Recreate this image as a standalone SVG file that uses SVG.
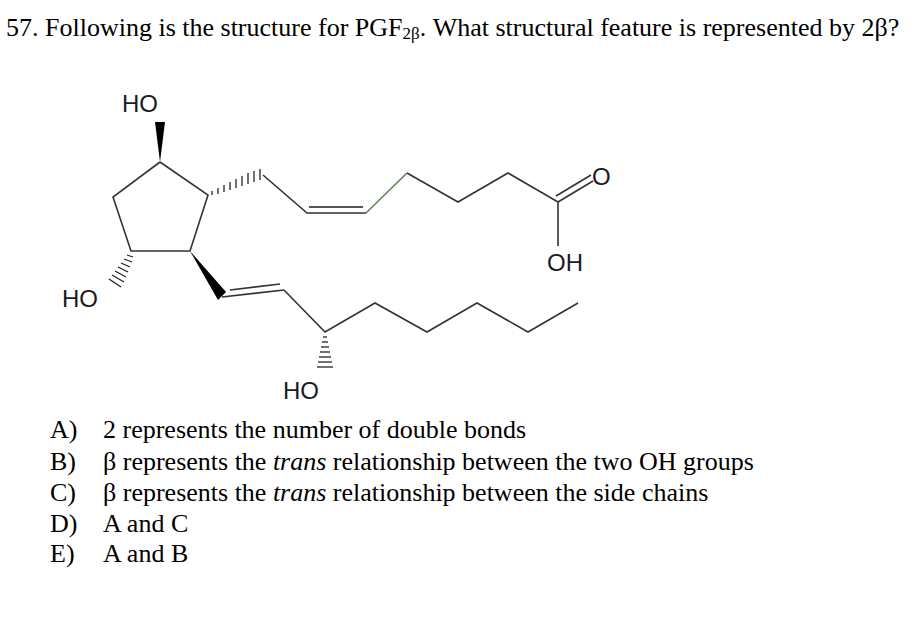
<svg xmlns="http://www.w3.org/2000/svg" width="920" height="640" viewBox="0 0 920 640">
<style>
.t{font-family:"Liberation Serif",serif;font-size:26px;fill:#000}
.a{font-family:"Liberation Sans",sans-serif;font-size:24px;fill:#1a1a22}
.b{stroke:#333;stroke-width:1.6;fill:none}
.h{stroke:#222;stroke-width:1.3;fill:none}
</style>
<rect width="920" height="640" fill="#fff"/>
<text class="t" x="6" y="36">57. Following is the structure for PGF<tspan font-size="17" dy="3">2β</tspan><tspan dy="-3">. What structural feature is represented by 2β?</tspan></text>
<g id="molecule">
<polyline class="b" points="160,162 208,195 190,251 131,251 113,197 160,162"/>
<polygon points="160,162 155,122 165,122" fill="#000"/>
<text class="a" x="122" y="112">HO</text>
<g class="h">
<line x1="212" y1="195" x2="212" y2="191"/><line x1="218" y1="194" x2="218" y2="188"/><line x1="224" y1="192" x2="224" y2="185"/><line x1="230" y1="190" x2="230" y2="182"/><line x1="236" y1="188" x2="236" y2="179"/><line x1="242" y1="186" x2="242" y2="176"/><line x1="248" y1="184" x2="248" y2="173"/><line x1="254" y1="182" x2="254" y2="171"/><line x1="260" y1="180" x2="260" y2="169"/>
</g>
<polyline class="b" points="263,175 307,213 366,213"/>
<line x1="309" y1="207" x2="363" y2="207" stroke="#555" stroke-width="2"/>
<line x1="366" y1="213" x2="407" y2="173" stroke="#5a8a4a" stroke-width="1.6"/>
<polyline class="b" points="407,173 458,202 508,173 558,202 558,246"/>
<line x1="558" y1="202" x2="593" y2="181" stroke="#333" stroke-width="1.6"/>
<line x1="556" y1="196" x2="591" y2="175" stroke="#333" stroke-width="1.6"/>
<text class="a" x="592" y="185">O</text>
<text class="a" x="547" y="271">OH</text>
<g class="h">
<line x1="127" y1="255" x2="133" y2="257"/><line x1="124" y1="259" x2="132" y2="262"/><line x1="121" y1="263" x2="130" y2="267"/><line x1="118" y1="267" x2="128" y2="272"/><line x1="115" y1="271" x2="126" y2="277"/><line x1="112" y1="275" x2="124" y2="282"/><line x1="109" y1="279" x2="121" y2="287"/>
</g>
<text class="a" x="62" y="307">HO</text>
<polygon points="190,251 218,300 226,292" fill="#000"/>
<line x1="222" y1="297" x2="284" y2="290" stroke="#333" stroke-width="1.6"/>
<line x1="230" y1="290" x2="280" y2="284" stroke="#333" stroke-width="1.6"/>
<polyline class="b" points="284,290 325,332 375,303 427,332 477,303 528,332 578,303"/>
<g class="h">
<line x1="323" y1="337" x2="327" y2="337"/><line x1="322" y1="342" x2="328" y2="342"/><line x1="321" y1="347" x2="329" y2="347"/><line x1="320" y1="352" x2="330" y2="352"/><line x1="319" y1="357" x2="331" y2="357"/><line x1="318" y1="362" x2="332" y2="362"/><line x1="317" y1="367" x2="333" y2="367"/>
</g>
<text class="a" x="283" y="399">HO</text>
</g>
<text class="t" x="50" y="438">A)</text><text class="t" x="103" y="438">2 represents the number of double bonds</text>
<text class="t" x="50" y="470">B)</text><text class="t" x="103" y="470">β represents the <tspan font-style="italic">trans</tspan> relationship between the two OH groups</text>
<text class="t" x="50" y="501">C)</text><text class="t" x="103" y="501">β represents the <tspan font-style="italic">trans</tspan> relationship between the side chains</text>
<text class="t" x="50" y="532">D)</text><text class="t" x="103" y="532">A and C</text>
<text class="t" x="50" y="562">E)</text><text class="t" x="103" y="562">A and B</text>
</svg>
